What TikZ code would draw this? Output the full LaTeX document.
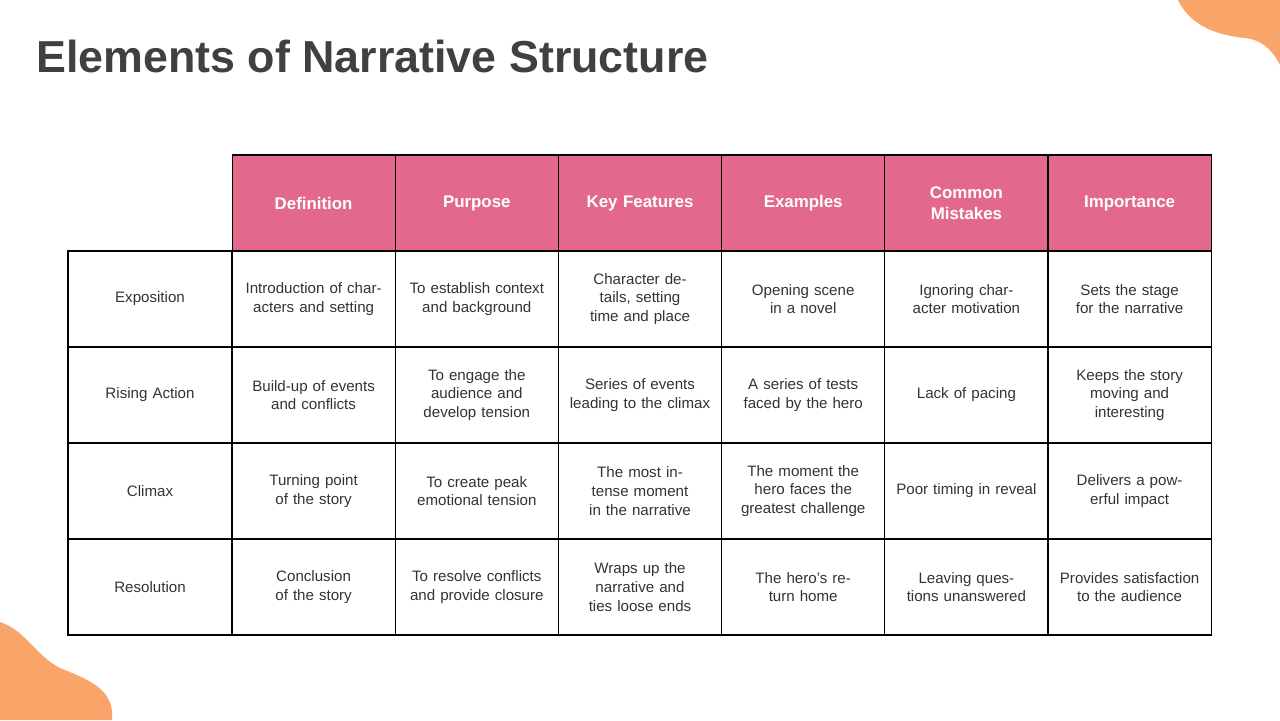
\documentclass[tikz,border=0pt]{standalone}
\usepackage{fontspec}
\setmainfont{Liberation Sans}
\usetikzlibrary{positioning, calc}
\definecolor{headpink}{HTML}{E2698C}
\definecolor{blob}{HTML}{F9A468}
\definecolor{titlegray}{HTML}{404040}
\tikzset{
  cell/.style={draw=black, line width=0.6pt, minimum width=3.26cm, minimum height=1.92cm,
    text width=2.9cm, align=center, inner sep=0pt, font=\fontsize{8.6}{10.6}\selectfont, text=black!80},
  headcell/.style={cell, fill=headpink, text=white, font=\fontsize{9.6}{12}\selectfont\bfseries},
  rowcell/.style={cell, minimum width=3.28cm}
}
\begin{document}
\begin{tikzpicture}[x=0.02cm, y=-0.02cm]
\useasboundingbox (0,0) rectangle (1280,720);
% corner blobs
\fill[blob] (1178,0) .. controls (1190,25) and (1215,35) .. (1245,38)
  .. controls (1265,40) and (1275,55) .. (1280,65) -- (1280,0) -- cycle;
\fill[blob] (0,622) .. controls (25,630) and (35,655) .. (60,668)
  .. controls (90,680) and (115,690) .. (112,720) -- (0,720) -- cycle;
% title
\node[anchor=base west, text=titlegray, font=\fontsize{25.5}{30}\selectfont\bfseries] (title) at (30,72) {Elements of Narrative Structure};
% header
\foreach \txt [count=\i] in {Definition, Purpose, Key Features, Examples, {Common\\Mistakes}, Importance} {
  \node[headcell] (h\i) at ({232+163.2*(\i-0.5)},203) {\txt};
}
% row labels
\foreach \txt [count=\j] in {Exposition, Rising Action, Climax, Resolution} {
  \node[rowcell] (r\j) at (150,{251+96*(\j-0.5)}) {\txt};
}
% body
\foreach \a/\b/\c/\d/\e/\f [count=\j] in {
  {Introduction of characters and setting}/{To establish context and background}/{Character details, setting time and place}/{Opening scene in a novel}/{Ignoring character motivation}/{Sets the stage for the narrative},
  {Build-up of events and conflicts}/{To engage the audience and develop tension}/{Series of events leading to the climax}/{A series of tests faced by the hero}/{Lack of pacing}/{Keeps the story moving and interesting},
  {Turning point of the story}/{To create peak emotional tension}/{The most intense moment in the narrative}/{The moment the hero faces the greatest challenge}/{Poor timing in reveal}/{Delivers a powerful impact},
  {Conclusion of the story}/{To resolve conflicts and provide closure}/{Wraps up the narrative and ties loose ends}/{The hero's return home}/{Leaving questions unanswered}/{Provides satisfaction to the audience}} {
  \foreach \txt [count=\i] in {\a,\b,\c,\d,\e,\f} {
    \node[cell] (c\j\i) at ({232+163.2*(\i-0.5)},{251+96*(\j-0.5)}) {\txt};
  }
}
\end{tikzpicture}
\end{document}
